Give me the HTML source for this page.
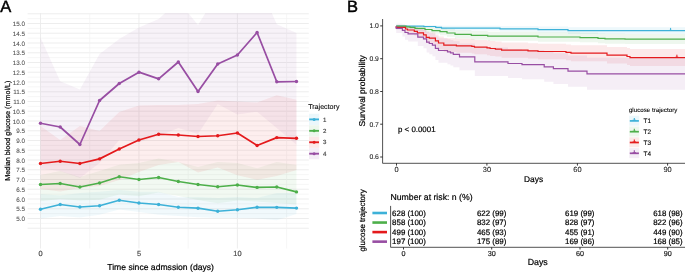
<!DOCTYPE html><html><head><meta charset="utf-8"><style>html,body{margin:0;padding:0;background:#fff;width:685px;height:272px;overflow:hidden;position:relative}</style></head><body><svg width="685" height="272" viewBox="0 0 685 272" style="position:absolute;left:0;top:0;font-family:'Liberation Sans', sans-serif;text-rendering:geometricPrecision;will-change:transform">
<rect width="685" height="272" fill="#fff"/>
<defs><clipPath id="cpA"><rect x="27.6" y="13.0" width="281.2" height="235.5"/></clipPath></defs>
<line x1="27.6" x2="308.8" y1="13.75" y2="13.75" stroke="#EBEBEB" stroke-width="0.9"/><line x1="27.6" x2="308.8" y1="18.62" y2="18.62" stroke="#F2F2F2" stroke-width="0.7"/><line x1="27.6" x2="308.8" y1="23.50" y2="23.50" stroke="#EBEBEB" stroke-width="0.9"/><line x1="27.6" x2="308.8" y1="28.38" y2="28.38" stroke="#F2F2F2" stroke-width="0.7"/><line x1="27.6" x2="308.8" y1="33.25" y2="33.25" stroke="#EBEBEB" stroke-width="0.9"/><line x1="27.6" x2="308.8" y1="38.12" y2="38.12" stroke="#F2F2F2" stroke-width="0.7"/><line x1="27.6" x2="308.8" y1="43.00" y2="43.00" stroke="#EBEBEB" stroke-width="0.9"/><line x1="27.6" x2="308.8" y1="47.88" y2="47.88" stroke="#F2F2F2" stroke-width="0.7"/><line x1="27.6" x2="308.8" y1="52.75" y2="52.75" stroke="#EBEBEB" stroke-width="0.9"/><line x1="27.6" x2="308.8" y1="57.62" y2="57.62" stroke="#F2F2F2" stroke-width="0.7"/><line x1="27.6" x2="308.8" y1="62.50" y2="62.50" stroke="#EBEBEB" stroke-width="0.9"/><line x1="27.6" x2="308.8" y1="67.38" y2="67.38" stroke="#F2F2F2" stroke-width="0.7"/><line x1="27.6" x2="308.8" y1="72.25" y2="72.25" stroke="#EBEBEB" stroke-width="0.9"/><line x1="27.6" x2="308.8" y1="77.12" y2="77.12" stroke="#F2F2F2" stroke-width="0.7"/><line x1="27.6" x2="308.8" y1="82.00" y2="82.00" stroke="#EBEBEB" stroke-width="0.9"/><line x1="27.6" x2="308.8" y1="86.88" y2="86.88" stroke="#F2F2F2" stroke-width="0.7"/><line x1="27.6" x2="308.8" y1="91.75" y2="91.75" stroke="#EBEBEB" stroke-width="0.9"/><line x1="27.6" x2="308.8" y1="96.62" y2="96.62" stroke="#F2F2F2" stroke-width="0.7"/><line x1="27.6" x2="308.8" y1="101.50" y2="101.50" stroke="#EBEBEB" stroke-width="0.9"/><line x1="27.6" x2="308.8" y1="106.38" y2="106.38" stroke="#F2F2F2" stroke-width="0.7"/><line x1="27.6" x2="308.8" y1="111.25" y2="111.25" stroke="#EBEBEB" stroke-width="0.9"/><line x1="27.6" x2="308.8" y1="116.12" y2="116.12" stroke="#F2F2F2" stroke-width="0.7"/><line x1="27.6" x2="308.8" y1="121.00" y2="121.00" stroke="#EBEBEB" stroke-width="0.9"/><line x1="27.6" x2="308.8" y1="125.88" y2="125.88" stroke="#F2F2F2" stroke-width="0.7"/><line x1="27.6" x2="308.8" y1="130.75" y2="130.75" stroke="#EBEBEB" stroke-width="0.9"/><line x1="27.6" x2="308.8" y1="135.62" y2="135.62" stroke="#F2F2F2" stroke-width="0.7"/><line x1="27.6" x2="308.8" y1="140.50" y2="140.50" stroke="#EBEBEB" stroke-width="0.9"/><line x1="27.6" x2="308.8" y1="145.38" y2="145.38" stroke="#F2F2F2" stroke-width="0.7"/><line x1="27.6" x2="308.8" y1="150.25" y2="150.25" stroke="#EBEBEB" stroke-width="0.9"/><line x1="27.6" x2="308.8" y1="155.12" y2="155.12" stroke="#F2F2F2" stroke-width="0.7"/><line x1="27.6" x2="308.8" y1="160.00" y2="160.00" stroke="#EBEBEB" stroke-width="0.9"/><line x1="27.6" x2="308.8" y1="164.88" y2="164.88" stroke="#F2F2F2" stroke-width="0.7"/><line x1="27.6" x2="308.8" y1="169.75" y2="169.75" stroke="#EBEBEB" stroke-width="0.9"/><line x1="27.6" x2="308.8" y1="174.62" y2="174.62" stroke="#F2F2F2" stroke-width="0.7"/><line x1="27.6" x2="308.8" y1="179.50" y2="179.50" stroke="#EBEBEB" stroke-width="0.9"/><line x1="27.6" x2="308.8" y1="184.38" y2="184.38" stroke="#F2F2F2" stroke-width="0.7"/><line x1="27.6" x2="308.8" y1="189.25" y2="189.25" stroke="#EBEBEB" stroke-width="0.9"/><line x1="27.6" x2="308.8" y1="194.12" y2="194.12" stroke="#F2F2F2" stroke-width="0.7"/><line x1="27.6" x2="308.8" y1="199.00" y2="199.00" stroke="#EBEBEB" stroke-width="0.9"/><line x1="27.6" x2="308.8" y1="203.88" y2="203.88" stroke="#F2F2F2" stroke-width="0.7"/><line x1="27.6" x2="308.8" y1="208.75" y2="208.75" stroke="#EBEBEB" stroke-width="0.9"/><line x1="27.6" x2="308.8" y1="213.62" y2="213.62" stroke="#F2F2F2" stroke-width="0.7"/><line x1="27.6" x2="308.8" y1="218.50" y2="218.50" stroke="#EBEBEB" stroke-width="0.9"/><line x1="27.6" x2="308.8" y1="223.38" y2="223.38" stroke="#F2F2F2" stroke-width="0.7"/><line x1="27.6" x2="308.8" y1="228.25" y2="228.25" stroke="#EBEBEB" stroke-width="0.9"/><line x1="40.50" x2="40.50" y1="13.0" y2="248.5" stroke="#EBEBEB" stroke-width="0.9"/><line x1="138.95" x2="138.95" y1="13.0" y2="248.5" stroke="#EBEBEB" stroke-width="0.9"/><line x1="237.40" x2="237.40" y1="13.0" y2="248.5" stroke="#EBEBEB" stroke-width="0.9"/><line x1="89.72" x2="89.72" y1="13.0" y2="248.5" stroke="#F2F2F2" stroke-width="0.7"/><line x1="188.18" x2="188.18" y1="13.0" y2="248.5" stroke="#F2F2F2" stroke-width="0.7"/><line x1="286.62" x2="286.62" y1="13.0" y2="248.5" stroke="#F2F2F2" stroke-width="0.7"/>
<g clip-path="url(#cpA)">
<path d="M40.50,194.00 L60.19,195.40 L79.88,193.00 L99.57,191.80 L119.26,190.00 L138.95,191.80 L158.64,191.80 L178.33,197.00 L198.02,197.00 L217.71,198.00 L237.40,197.00 L257.09,198.00 L276.78,193.00 L296.47,193.00 L296.47,214.00 L276.78,220.30 L257.09,218.50 L237.40,218.00 L217.71,218.00 L198.02,217.20 L178.33,216.00 L158.64,214.70 L138.95,212.00 L119.26,209.60 L99.57,214.70 L79.88,217.60 L60.19,215.90 L40.50,218.50Z" fill="#3DB1D8" fill-opacity="0.075"/>
<path d="M40.50,175.00 L60.19,171.00 L79.88,177.00 L99.57,171.00 L119.26,164.70 L138.95,163.00 L158.64,158.50 L178.33,162.00 L198.02,167.00 L217.71,162.00 L237.40,163.00 L257.09,168.20 L276.78,162.00 L296.47,165.00 L296.47,204.40 L276.78,203.00 L257.09,201.50 L237.40,200.60 L217.71,203.20 L198.02,200.00 L178.33,196.00 L158.64,192.60 L138.95,196.20 L119.26,194.40 L99.57,199.70 L79.88,200.60 L60.19,199.00 L40.50,201.30Z" fill="#4DAF4A" fill-opacity="0.075"/>
<path d="M40.50,126.00 L60.19,140.00 L79.88,126.00 L99.57,131.00 L119.26,112.00 L138.95,105.50 L158.64,105.00 L178.33,105.00 L198.02,104.00 L217.71,100.60 L237.40,101.50 L257.09,102.50 L276.78,95.30 L296.47,99.80 L296.47,170.00 L276.78,176.00 L257.09,179.70 L237.40,175.30 L217.71,167.40 L198.02,172.60 L178.33,162.00 L158.64,165.00 L138.95,172.00 L119.26,180.00 L99.57,186.00 L79.88,188.00 L60.19,191.40 L40.50,189.00Z" fill="#E41A1C" fill-opacity="0.075"/>
<path d="M40.50,37.50 L60.19,81.25 L79.88,89.50 L99.57,54.00 L119.26,39.00 L138.95,27.50 L158.64,19.00 L178.33,1.00 L198.02,25.00 L217.71,-7.00 L237.40,-10.00 L257.09,-20.00 L276.78,24.30 L296.47,33.00 L296.47,144.80 L276.78,128.00 L257.09,111.70 L237.40,114.40 L217.71,104.00 L198.02,134.00 L178.33,128.00 L158.64,136.00 L138.95,142.00 L119.26,140.00 L99.57,163.00 L79.88,178.00 L60.19,171.00 L40.50,168.50Z" fill="#984EA3" fill-opacity="0.075"/>
<path d="M40.50,209.25 L60.19,204.50 L79.88,207.00 L99.57,205.75 L119.26,200.25 L138.95,203.00 L158.64,204.50 L178.33,207.25 L198.02,208.20 L217.71,211.25 L237.40,209.75 L257.09,207.30 L276.78,207.35 L296.47,208.10" fill="none" stroke="#3DB1D8" stroke-width="1.75" stroke-linejoin="round"/>
<circle cx="40.50" cy="209.25" r="1.7" fill="#3DB1D8"/><circle cx="60.19" cy="204.50" r="1.7" fill="#3DB1D8"/><circle cx="79.88" cy="207.00" r="1.7" fill="#3DB1D8"/><circle cx="99.57" cy="205.75" r="1.7" fill="#3DB1D8"/><circle cx="119.26" cy="200.25" r="1.7" fill="#3DB1D8"/><circle cx="138.95" cy="203.00" r="1.7" fill="#3DB1D8"/><circle cx="158.64" cy="204.50" r="1.7" fill="#3DB1D8"/><circle cx="178.33" cy="207.25" r="1.7" fill="#3DB1D8"/><circle cx="198.02" cy="208.20" r="1.7" fill="#3DB1D8"/><circle cx="217.71" cy="211.25" r="1.7" fill="#3DB1D8"/><circle cx="237.40" cy="209.75" r="1.7" fill="#3DB1D8"/><circle cx="257.09" cy="207.30" r="1.7" fill="#3DB1D8"/><circle cx="276.78" cy="207.35" r="1.7" fill="#3DB1D8"/><circle cx="296.47" cy="208.10" r="1.7" fill="#3DB1D8"/>
<path d="M40.50,184.50 L60.19,183.50 L79.88,187.00 L99.57,183.00 L119.26,176.75 L138.95,179.50 L158.64,177.50 L178.33,181.50 L198.02,184.50 L217.71,186.75 L237.40,185.00 L257.09,187.40 L276.78,187.00 L296.47,191.90" fill="none" stroke="#4DAF4A" stroke-width="1.75" stroke-linejoin="round"/>
<circle cx="40.50" cy="184.50" r="1.7" fill="#4DAF4A"/><circle cx="60.19" cy="183.50" r="1.7" fill="#4DAF4A"/><circle cx="79.88" cy="187.00" r="1.7" fill="#4DAF4A"/><circle cx="99.57" cy="183.00" r="1.7" fill="#4DAF4A"/><circle cx="119.26" cy="176.75" r="1.7" fill="#4DAF4A"/><circle cx="138.95" cy="179.50" r="1.7" fill="#4DAF4A"/><circle cx="158.64" cy="177.50" r="1.7" fill="#4DAF4A"/><circle cx="178.33" cy="181.50" r="1.7" fill="#4DAF4A"/><circle cx="198.02" cy="184.50" r="1.7" fill="#4DAF4A"/><circle cx="217.71" cy="186.75" r="1.7" fill="#4DAF4A"/><circle cx="237.40" cy="185.00" r="1.7" fill="#4DAF4A"/><circle cx="257.09" cy="187.40" r="1.7" fill="#4DAF4A"/><circle cx="276.78" cy="187.00" r="1.7" fill="#4DAF4A"/><circle cx="296.47" cy="191.90" r="1.7" fill="#4DAF4A"/>
<path d="M40.50,163.50 L60.19,161.25 L79.88,163.50 L99.57,158.90 L119.26,149.00 L138.95,140.00 L158.64,134.25 L178.33,135.00 L198.02,136.50 L217.71,135.75 L237.40,133.00 L257.09,145.50 L276.78,137.60 L296.47,138.30" fill="none" stroke="#E41A1C" stroke-width="1.75" stroke-linejoin="round"/>
<circle cx="40.50" cy="163.50" r="1.7" fill="#E41A1C"/><circle cx="60.19" cy="161.25" r="1.7" fill="#E41A1C"/><circle cx="79.88" cy="163.50" r="1.7" fill="#E41A1C"/><circle cx="99.57" cy="158.90" r="1.7" fill="#E41A1C"/><circle cx="119.26" cy="149.00" r="1.7" fill="#E41A1C"/><circle cx="138.95" cy="140.00" r="1.7" fill="#E41A1C"/><circle cx="158.64" cy="134.25" r="1.7" fill="#E41A1C"/><circle cx="178.33" cy="135.00" r="1.7" fill="#E41A1C"/><circle cx="198.02" cy="136.50" r="1.7" fill="#E41A1C"/><circle cx="217.71" cy="135.75" r="1.7" fill="#E41A1C"/><circle cx="237.40" cy="133.00" r="1.7" fill="#E41A1C"/><circle cx="257.09" cy="145.50" r="1.7" fill="#E41A1C"/><circle cx="276.78" cy="137.60" r="1.7" fill="#E41A1C"/><circle cx="296.47" cy="138.30" r="1.7" fill="#E41A1C"/>
<path d="M40.50,123.25 L60.19,127.00 L79.88,144.50 L99.57,100.50 L119.26,83.50 L138.95,72.20 L158.64,78.80 L178.33,62.00 L198.02,91.50 L217.71,64.00 L237.40,55.00 L257.09,32.50 L276.78,81.80 L296.47,81.50" fill="none" stroke="#984EA3" stroke-width="1.75" stroke-linejoin="round"/>
<circle cx="40.50" cy="123.25" r="1.7" fill="#984EA3"/><circle cx="60.19" cy="127.00" r="1.7" fill="#984EA3"/><circle cx="79.88" cy="144.50" r="1.7" fill="#984EA3"/><circle cx="99.57" cy="100.50" r="1.7" fill="#984EA3"/><circle cx="119.26" cy="83.50" r="1.7" fill="#984EA3"/><circle cx="138.95" cy="72.20" r="1.7" fill="#984EA3"/><circle cx="158.64" cy="78.80" r="1.7" fill="#984EA3"/><circle cx="178.33" cy="62.00" r="1.7" fill="#984EA3"/><circle cx="198.02" cy="91.50" r="1.7" fill="#984EA3"/><circle cx="217.71" cy="64.00" r="1.7" fill="#984EA3"/><circle cx="237.40" cy="55.00" r="1.7" fill="#984EA3"/><circle cx="257.09" cy="32.50" r="1.7" fill="#984EA3"/><circle cx="276.78" cy="81.80" r="1.7" fill="#984EA3"/><circle cx="296.47" cy="81.50" r="1.7" fill="#984EA3"/>
</g>
<text x="25.0" y="221.20" text-anchor="end" font-size="6.3" fill="#4D4D4D" stroke="#4D4D4D" stroke-width="0.05">5.0</text><text x="25.0" y="211.45" text-anchor="end" font-size="6.3" fill="#4D4D4D" stroke="#4D4D4D" stroke-width="0.05">5.5</text><text x="25.0" y="201.70" text-anchor="end" font-size="6.3" fill="#4D4D4D" stroke="#4D4D4D" stroke-width="0.05">6.0</text><text x="25.0" y="191.95" text-anchor="end" font-size="6.3" fill="#4D4D4D" stroke="#4D4D4D" stroke-width="0.05">6.5</text><text x="25.0" y="182.20" text-anchor="end" font-size="6.3" fill="#4D4D4D" stroke="#4D4D4D" stroke-width="0.05">7.0</text><text x="25.0" y="172.45" text-anchor="end" font-size="6.3" fill="#4D4D4D" stroke="#4D4D4D" stroke-width="0.05">7.5</text><text x="25.0" y="162.70" text-anchor="end" font-size="6.3" fill="#4D4D4D" stroke="#4D4D4D" stroke-width="0.05">8.0</text><text x="25.0" y="152.95" text-anchor="end" font-size="6.3" fill="#4D4D4D" stroke="#4D4D4D" stroke-width="0.05">8.5</text><text x="25.0" y="143.20" text-anchor="end" font-size="6.3" fill="#4D4D4D" stroke="#4D4D4D" stroke-width="0.05">9.0</text><text x="25.0" y="133.45" text-anchor="end" font-size="6.3" fill="#4D4D4D" stroke="#4D4D4D" stroke-width="0.05">9.5</text><text x="25.0" y="123.70" text-anchor="end" font-size="6.3" fill="#4D4D4D" stroke="#4D4D4D" stroke-width="0.05">10.0</text><text x="25.0" y="113.95" text-anchor="end" font-size="6.3" fill="#4D4D4D" stroke="#4D4D4D" stroke-width="0.05">10.5</text><text x="25.0" y="104.20" text-anchor="end" font-size="6.3" fill="#4D4D4D" stroke="#4D4D4D" stroke-width="0.05">11.0</text><text x="25.0" y="94.45" text-anchor="end" font-size="6.3" fill="#4D4D4D" stroke="#4D4D4D" stroke-width="0.05">11.5</text><text x="25.0" y="84.70" text-anchor="end" font-size="6.3" fill="#4D4D4D" stroke="#4D4D4D" stroke-width="0.05">12.0</text><text x="25.0" y="74.95" text-anchor="end" font-size="6.3" fill="#4D4D4D" stroke="#4D4D4D" stroke-width="0.05">12.5</text><text x="25.0" y="65.20" text-anchor="end" font-size="6.3" fill="#4D4D4D" stroke="#4D4D4D" stroke-width="0.05">13.0</text><text x="25.0" y="55.45" text-anchor="end" font-size="6.3" fill="#4D4D4D" stroke="#4D4D4D" stroke-width="0.05">13.5</text><text x="25.0" y="45.70" text-anchor="end" font-size="6.3" fill="#4D4D4D" stroke="#4D4D4D" stroke-width="0.05">14.0</text><text x="25.0" y="35.95" text-anchor="end" font-size="6.3" fill="#4D4D4D" stroke="#4D4D4D" stroke-width="0.05">14.5</text><text x="25.0" y="26.20" text-anchor="end" font-size="6.3" fill="#4D4D4D" stroke="#4D4D4D" stroke-width="0.05">15.0</text><text x="40.50" y="256.4" text-anchor="middle" font-size="7.4" fill="#4D4D4D" stroke="#4D4D4D" stroke-width="0.2">0</text><text x="138.95" y="256.4" text-anchor="middle" font-size="7.4" fill="#4D4D4D" stroke="#4D4D4D" stroke-width="0.2">5</text><text x="237.40" y="256.4" text-anchor="middle" font-size="7.4" fill="#4D4D4D" stroke="#4D4D4D" stroke-width="0.2">10</text>
<text x="160.6" y="269.6" text-anchor="middle" font-size="8.6" fill="#000" stroke="#000" stroke-width="0.2">Time since admssion (days)</text>
<text transform="translate(10.4,130.7) rotate(-90)" text-anchor="middle" font-size="7.2" fill="#000" stroke="#000" stroke-width="0.2">Median blood glucose (mmol/L)</text>
<text x="0.3" y="12.2" font-size="16.5" fill="#000" stroke="#000" stroke-width="0.45">A</text>
<text x="308.2" y="109" font-size="7.1" fill="#000" stroke="#000" stroke-width="0.1">Trajectory</text>
<rect x="309" y="113.80" width="10.2" height="11.2" fill="#3DB1D8" fill-opacity="0.1"/>
<line x1="309.2" x2="319" y1="119.40" y2="119.40" stroke="#3DB1D8" stroke-width="1.85"/>
<circle cx="314.1" cy="119.40" r="1.5" fill="#3DB1D8"/>
<text x="322.9" y="121.60" font-size="6.1" fill="#4D4D4D" stroke="#4D4D4D" stroke-width="0.2">1</text>
<rect x="309" y="125.23" width="10.2" height="11.2" fill="#4DAF4A" fill-opacity="0.1"/>
<line x1="309.2" x2="319" y1="130.83" y2="130.83" stroke="#4DAF4A" stroke-width="1.85"/>
<circle cx="314.1" cy="130.83" r="1.5" fill="#4DAF4A"/>
<text x="322.9" y="133.03" font-size="6.1" fill="#4D4D4D" stroke="#4D4D4D" stroke-width="0.2">2</text>
<rect x="309" y="136.66" width="10.2" height="11.2" fill="#E41A1C" fill-opacity="0.1"/>
<line x1="309.2" x2="319" y1="142.26" y2="142.26" stroke="#E41A1C" stroke-width="1.85"/>
<circle cx="314.1" cy="142.26" r="1.5" fill="#E41A1C"/>
<text x="322.9" y="144.46" font-size="6.1" fill="#4D4D4D" stroke="#4D4D4D" stroke-width="0.2">3</text>
<rect x="309" y="148.09" width="10.2" height="11.2" fill="#984EA3" fill-opacity="0.1"/>
<line x1="309.2" x2="319" y1="153.69" y2="153.69" stroke="#984EA3" stroke-width="1.85"/>
<circle cx="314.1" cy="153.69" r="1.5" fill="#984EA3"/>
<text x="322.9" y="155.89" font-size="6.1" fill="#4D4D4D" stroke="#4D4D4D" stroke-width="0.2">4</text>
<g>
<path d="M396.20,26.20 L423.80,26.20 L423.80,25.37 L435.70,25.37 L435.70,25.40 L441.50,25.40 L441.50,25.79 L500.00,25.79 L500.00,26.13 L538.00,26.13 L538.00,26.62 L568.00,26.62 L568.00,27.30 L685.00,27.30 L685.00,33.90 L568.00,33.90 L568.00,32.58 L538.00,32.58 L538.00,31.47 L500.00,31.47 L500.00,30.61 L441.50,30.61 L441.50,29.20 L435.70,29.20 L435.70,27.63 L423.80,27.63 L423.80,26.20 L396.20,26.20Z" fill="#3DB1D8" fill-opacity="0.095"/>
<path d="M396.20,26.20 L406.00,26.20 L406.00,25.33 L410.00,25.33 L410.00,25.47 L415.00,25.47 L415.00,25.94 L425.00,25.94 L425.00,26.60 L432.00,26.60 L432.00,27.35 L440.00,27.35 L440.00,28.14 L447.00,28.14 L447.00,29.13 L455.00,29.13 L455.00,30.23 L471.30,30.23 L471.30,30.95 L487.70,30.95 L487.70,31.68 L538.00,31.68 L538.00,32.34 L580.00,32.34 L580.00,32.84 L598.00,32.84 L598.00,33.43 L605.00,33.43 L605.00,33.85 L625.00,33.85 L625.00,34.10 L685.00,34.10 L685.00,44.10 L625.00,44.10 L625.00,43.75 L605.00,43.75 L605.00,43.17 L598.00,43.17 L598.00,42.36 L580.00,42.36 L580.00,41.66 L538.00,41.66 L538.00,40.72 L487.70,40.72 L487.70,39.65 L471.30,39.65 L471.30,38.57 L455.00,38.57 L455.00,36.87 L447.00,36.87 L447.00,35.26 L440.00,35.26 L440.00,33.85 L432.00,33.85 L432.00,32.40 L425.00,32.40 L425.00,30.86 L415.00,30.86 L415.00,29.33 L410.00,29.33 L410.00,28.27 L406.00,28.27 L406.00,26.20 L396.20,26.20Z" fill="#4DAF4A" fill-opacity="0.095"/>
<path d="M396.20,25.08 L405.50,25.08 L405.50,25.77 L407.50,25.77 L407.50,26.35 L414.30,26.35 L414.30,27.19 L417.40,27.19 L417.40,28.25 L423.50,28.25 L423.50,29.81 L426.20,29.81 L426.20,31.69 L429.30,31.69 L429.30,32.41 L435.40,32.41 L435.40,34.54 L438.50,34.54 L438.50,36.38 L443.80,36.38 L443.80,38.16 L456.40,38.16 L456.40,38.76 L471.80,38.76 L471.80,39.27 L474.50,39.27 L474.50,39.88 L487.00,39.88 L487.00,40.57 L490.10,40.57 L490.10,41.09 L495.40,41.09 L495.40,41.61 L501.60,41.61 L501.60,42.48 L528.00,42.48 L528.00,43.18 L538.00,43.18 L538.00,43.70 L566.00,43.70 L566.00,44.49 L571.00,44.49 L571.00,45.20 L607.00,45.20 L607.00,46.97 L627.00,46.97 L627.00,48.12 L630.00,48.12 L630.00,49.10 L685.00,49.10 L685.00,66.10 L630.00,66.10 L630.00,64.88 L627.00,64.88 L627.00,63.43 L607.00,63.43 L607.00,61.20 L571.00,61.20 L571.00,60.31 L566.00,60.31 L566.00,59.30 L538.00,59.30 L538.00,58.62 L528.00,58.62 L528.00,57.72 L501.60,57.72 L501.60,56.59 L495.40,56.59 L495.40,55.91 L490.10,55.91 L490.10,55.23 L487.00,55.23 L487.00,54.32 L474.50,54.32 L474.50,53.53 L471.80,53.53 L471.80,52.84 L456.40,52.84 L456.40,52.04 L443.80,52.04 L443.80,49.62 L438.50,49.62 L438.50,47.06 L435.40,47.06 L435.40,43.99 L429.30,43.99 L429.30,42.91 L426.20,42.91 L426.20,39.99 L423.50,39.99 L423.50,37.35 L417.40,37.35 L417.40,35.41 L414.30,35.41 L414.30,33.65 L407.50,33.65 L407.50,32.23 L405.50,32.23 L405.50,29.52 L396.20,29.52Z" fill="#E41A1C" fill-opacity="0.095"/>
<path d="M396.20,23.71 L402.40,23.71 L402.40,24.34 L405.00,24.34 L405.00,25.37 L408.10,25.37 L408.10,26.18 L417.80,26.18 L417.80,28.29 L423.50,28.29 L423.50,29.40 L426.60,29.40 L426.60,31.86 L429.30,31.86 L429.30,32.83 L432.40,32.83 L432.40,34.12 L435.40,34.12 L435.40,36.53 L438.50,36.53 L438.50,38.27 L447.50,38.27 L447.50,39.32 L450.50,39.32 L450.50,40.12 L453.30,40.12 L453.30,41.34 L459.50,41.34 L459.50,43.39 L474.80,43.39 L474.80,47.56 L508.00,47.56 L508.00,48.99 L522.00,48.99 L522.00,49.92 L544.20,49.92 L544.20,51.79 L553.40,51.79 L553.40,53.32 L568.00,53.32 L568.00,55.56 L587.00,55.56 L587.00,57.80 L685.00,57.80 L685.00,89.80 L587.00,89.80 L587.00,86.84 L568.00,86.84 L568.00,83.88 L553.40,83.88 L553.40,81.81 L544.20,81.81 L544.20,79.28 L522.00,79.28 L522.00,78.01 L508.00,78.01 L508.00,76.04 L474.80,76.04 L474.80,70.21 L459.50,70.21 L459.50,67.26 L453.30,67.26 L453.30,65.48 L450.50,65.48 L450.50,64.28 L447.50,64.28 L447.50,62.73 L438.50,62.73 L438.50,60.07 L435.40,60.07 L435.40,56.28 L432.40,56.28 L432.40,54.17 L429.30,54.17 L429.30,52.54 L426.60,52.54 L426.60,48.20 L423.50,48.20 L423.50,46.11 L417.80,46.11 L417.80,41.62 L408.10,41.62 L408.10,39.63 L405.00,39.63 L405.00,36.46 L402.40,36.46 L402.40,32.89 L396.20,32.89Z" fill="#984EA3" fill-opacity="0.095"/>
<path d="M396.20,26.20 V26.20 H423.80 V26.50 H435.70 V27.30 H441.50 V28.20 H500.00 V28.80 H538.00 V29.60 H568.00 V30.60 H685" fill="none" stroke="#3DB1D8" stroke-width="1.2"/>
<path d="M396.20,26.20 V26.20 H406.00 V26.80 H410.00 V27.40 H415.00 V28.40 H425.00 V29.50 H432.00 V30.60 H440.00 V31.70 H447.00 V33.00 H455.00 V34.40 H471.30 V35.30 H487.70 V36.20 H538.00 V37.00 H580.00 V37.60 H598.00 V38.30 H605.00 V38.80 H625.00 V39.10 H685" fill="none" stroke="#4DAF4A" stroke-width="1.2"/>
<path d="M396.20,26.20 V27.30 H405.50 V29.00 H407.50 V30.00 H414.30 V31.30 H417.40 V32.80 H423.50 V34.90 H426.20 V37.30 H429.30 V38.20 H435.40 V40.80 H438.50 V43.00 H443.80 V45.10 H456.40 V45.80 H471.80 V46.40 H474.50 V47.10 H487.00 V47.90 H490.10 V48.50 H495.40 V49.10 H501.60 V50.10 H528.00 V50.90 H538.00 V51.50 H566.00 V52.40 H571.00 V53.20 H607.00 V55.20 H627.00 V56.50 H630.00 V57.60 H685" fill="none" stroke="#E41A1C" stroke-width="1.2"/>
<path d="M396.20,26.20 V28.30 H402.40 V30.40 H405.00 V32.50 H408.10 V33.90 H417.80 V37.20 H423.50 V38.80 H426.60 V42.20 H429.30 V43.50 H432.40 V45.20 H435.40 V48.30 H438.50 V50.50 H447.50 V51.80 H450.50 V52.80 H453.30 V54.30 H459.50 V56.80 H474.80 V61.80 H508.00 V63.50 H522.00 V64.60 H544.20 V66.80 H553.40 V68.60 H568.00 V71.20 H587.00 V73.80 H685" fill="none" stroke="#984EA3" stroke-width="1.2"/>
<path d="M670.6,27.9 V30.9 M669.2,30.4 H672" stroke="#3DB1D8" stroke-width="1"/>
<path d="M676.9,54.7 V57.9 M675.5,57.2 H678.3" stroke="#E41A1C" stroke-width="1"/>
</g>
<path d="M382.6,19 V163.3 H685" fill="none" stroke="#333" stroke-width="0.85"/>
<line x1="380.2" x2="382.6" y1="25.9" y2="25.9" stroke="#222" stroke-width="0.9"/>
<text x="378.9" y="28.30" text-anchor="end" font-size="6.8" fill="#222" stroke="#222" stroke-width="0.08">1.0</text>
<line x1="380.2" x2="382.6" y1="58.7" y2="58.7" stroke="#222" stroke-width="0.9"/>
<text x="378.9" y="61.10" text-anchor="end" font-size="6.8" fill="#222" stroke="#222" stroke-width="0.08">0.9</text>
<line x1="380.2" x2="382.6" y1="91.5" y2="91.5" stroke="#222" stroke-width="0.9"/>
<text x="378.9" y="93.90" text-anchor="end" font-size="6.8" fill="#222" stroke="#222" stroke-width="0.08">0.8</text>
<line x1="380.2" x2="382.6" y1="124.2" y2="124.2" stroke="#222" stroke-width="0.9"/>
<text x="378.9" y="126.60" text-anchor="end" font-size="6.8" fill="#222" stroke="#222" stroke-width="0.08">0.7</text>
<line x1="380.2" x2="382.6" y1="157.0" y2="157.0" stroke="#222" stroke-width="0.9"/>
<text x="378.9" y="159.40" text-anchor="end" font-size="6.8" fill="#222" stroke="#222" stroke-width="0.08">0.6</text>
<line x1="396.5" x2="396.5" y1="163.2" y2="165.6" stroke="#222" stroke-width="0.9"/>
<text x="396.5" y="171.9" text-anchor="middle" font-size="7.4" fill="#222" stroke="#222" stroke-width="0.08">0</text>
<line x1="486.9" x2="486.9" y1="163.2" y2="165.6" stroke="#222" stroke-width="0.9"/>
<text x="486.9" y="171.9" text-anchor="middle" font-size="7.4" fill="#222" stroke="#222" stroke-width="0.08">30</text>
<line x1="577.4" x2="577.4" y1="163.2" y2="165.6" stroke="#222" stroke-width="0.9"/>
<text x="577.4" y="171.9" text-anchor="middle" font-size="7.4" fill="#222" stroke="#222" stroke-width="0.08">60</text>
<line x1="667.6" x2="667.6" y1="163.2" y2="165.6" stroke="#222" stroke-width="0.9"/>
<text x="667.6" y="171.9" text-anchor="middle" font-size="7.4" fill="#222" stroke="#222" stroke-width="0.08">90</text>
<text x="533.6" y="181.5" text-anchor="middle" font-size="8.4" fill="#000" stroke="#000" stroke-width="0.2">Days</text>
<text transform="translate(365,90.8) rotate(-90)" text-anchor="middle" font-size="8.5" fill="#000" stroke="#000" stroke-width="0.2">Survival probability</text>
<text x="398" y="131.8" font-size="7.9" fill="#000" stroke="#000" stroke-width="0.2">p &lt; 0.0001</text>
<text x="346.9" y="12.2" font-size="16.5" fill="#000" stroke="#000" stroke-width="0.45">B</text>
<text x="628.9" y="112" font-size="6.2" fill="#000" stroke="#000" stroke-width="0.08">glucose trajectory</text>
<rect x="629.3" y="115.70" width="9.9" height="10" fill="#3DB1D8" fill-opacity="0.1"/>
<line x1="629.8" x2="638.9" y1="120.90" y2="120.90" stroke="#3DB1D8" stroke-width="1.7"/>
<path d="M634.3,117.90 V120.90 M632.6,120.40 H636" stroke="#3DB1D8" stroke-width="1.1"/>
<text x="643.6" y="123.10" font-size="6.4" fill="#000" stroke="#000" stroke-width="0.1">T1</text>
<rect x="629.3" y="126.50" width="9.9" height="10" fill="#4DAF4A" fill-opacity="0.1"/>
<line x1="629.8" x2="638.9" y1="131.70" y2="131.70" stroke="#4DAF4A" stroke-width="1.7"/>
<path d="M634.3,128.70 V131.70 M632.6,131.20 H636" stroke="#4DAF4A" stroke-width="1.1"/>
<text x="643.6" y="133.90" font-size="6.4" fill="#000" stroke="#000" stroke-width="0.1">T2</text>
<rect x="629.3" y="137.30" width="9.9" height="10" fill="#E41A1C" fill-opacity="0.1"/>
<line x1="629.8" x2="638.9" y1="142.50" y2="142.50" stroke="#E41A1C" stroke-width="1.7"/>
<path d="M634.3,139.50 V142.50 M632.6,142.00 H636" stroke="#E41A1C" stroke-width="1.1"/>
<text x="643.6" y="144.70" font-size="6.4" fill="#000" stroke="#000" stroke-width="0.1">T3</text>
<rect x="629.3" y="148.10" width="9.9" height="10" fill="#984EA3" fill-opacity="0.1"/>
<line x1="629.8" x2="638.9" y1="153.30" y2="153.30" stroke="#984EA3" stroke-width="1.7"/>
<path d="M634.3,150.30 V153.30 M632.6,152.80 H636" stroke="#984EA3" stroke-width="1.1"/>
<text x="643.6" y="155.50" font-size="6.4" fill="#000" stroke="#000" stroke-width="0.1">T4</text>
<text x="390.5" y="199.7" font-size="8.7" fill="#000" stroke="#000" stroke-width="0.2">Number at risk: n (%)</text>
<text transform="translate(365.4,220.45) rotate(-90)" text-anchor="middle" font-size="7.95" fill="#000" stroke="#000" stroke-width="0.2">glucose trajectory</text>
<path d="M390.6,205.9 V247.3 H685" fill="none" stroke="#333" stroke-width="0.85"/>
<line x1="403.5" x2="403.5" y1="247.3" y2="249.5" stroke="#222" stroke-width="0.9"/>
<text x="403.5" y="256.2" text-anchor="middle" font-size="7.2" fill="#222" stroke="#222" stroke-width="0.2">0</text>
<line x1="491.7" x2="491.7" y1="247.3" y2="249.5" stroke="#222" stroke-width="0.9"/>
<text x="491.7" y="256.2" text-anchor="middle" font-size="7.2" fill="#222" stroke="#222" stroke-width="0.2">30</text>
<line x1="580" x2="580" y1="247.3" y2="249.5" stroke="#222" stroke-width="0.9"/>
<text x="580" y="256.2" text-anchor="middle" font-size="7.2" fill="#222" stroke="#222" stroke-width="0.2">60</text>
<line x1="667.7" x2="667.7" y1="247.3" y2="249.5" stroke="#222" stroke-width="0.9"/>
<text x="667.7" y="256.2" text-anchor="middle" font-size="7.2" fill="#222" stroke="#222" stroke-width="0.2">90</text>
<text x="537.7" y="265.0" text-anchor="middle" font-size="8.8" fill="#000" stroke="#000" stroke-width="0.2">Days</text>
<line x1="372.4" x2="387" y1="213.00" y2="213.00" stroke="#3DB1D8" stroke-width="2.6"/>
<text x="409.0" y="215.80" text-anchor="middle" font-size="7.9" fill="#000" stroke="#000" stroke-width="0.2">628 (100)</text>
<text x="491.6" y="215.80" text-anchor="middle" font-size="7.9" fill="#000" stroke="#000" stroke-width="0.2">622 (99)</text>
<text x="579.8" y="215.80" text-anchor="middle" font-size="7.9" fill="#000" stroke="#000" stroke-width="0.2">619 (99)</text>
<text x="667.9" y="215.80" text-anchor="middle" font-size="7.9" fill="#000" stroke="#000" stroke-width="0.2">618 (98)</text>
<line x1="372.4" x2="387" y1="222.55" y2="222.55" stroke="#4DAF4A" stroke-width="2.6"/>
<text x="409.0" y="225.35" text-anchor="middle" font-size="7.9" fill="#000" stroke="#000" stroke-width="0.2">858 (100)</text>
<text x="491.6" y="225.35" text-anchor="middle" font-size="7.9" fill="#000" stroke="#000" stroke-width="0.2">832 (97)</text>
<text x="579.8" y="225.35" text-anchor="middle" font-size="7.9" fill="#000" stroke="#000" stroke-width="0.2">828 (97)</text>
<text x="667.9" y="225.35" text-anchor="middle" font-size="7.9" fill="#000" stroke="#000" stroke-width="0.2">822 (96)</text>
<line x1="372.4" x2="387" y1="232.10" y2="232.10" stroke="#E41A1C" stroke-width="2.6"/>
<text x="409.0" y="234.90" text-anchor="middle" font-size="7.9" fill="#000" stroke="#000" stroke-width="0.2">499 (100)</text>
<text x="491.6" y="234.90" text-anchor="middle" font-size="7.9" fill="#000" stroke="#000" stroke-width="0.2">465 (93)</text>
<text x="579.8" y="234.90" text-anchor="middle" font-size="7.9" fill="#000" stroke="#000" stroke-width="0.2">455 (91)</text>
<text x="667.9" y="234.90" text-anchor="middle" font-size="7.9" fill="#000" stroke="#000" stroke-width="0.2">449 (90)</text>
<line x1="372.4" x2="387" y1="241.65" y2="241.65" stroke="#984EA3" stroke-width="2.6"/>
<text x="409.0" y="244.45" text-anchor="middle" font-size="7.9" fill="#000" stroke="#000" stroke-width="0.2">197 (100)</text>
<text x="491.6" y="244.45" text-anchor="middle" font-size="7.9" fill="#000" stroke="#000" stroke-width="0.2">175 (89)</text>
<text x="579.8" y="244.45" text-anchor="middle" font-size="7.9" fill="#000" stroke="#000" stroke-width="0.2">169 (86)</text>
<text x="667.9" y="244.45" text-anchor="middle" font-size="7.9" fill="#000" stroke="#000" stroke-width="0.2">168 (85)</text>
</svg></body></html>
